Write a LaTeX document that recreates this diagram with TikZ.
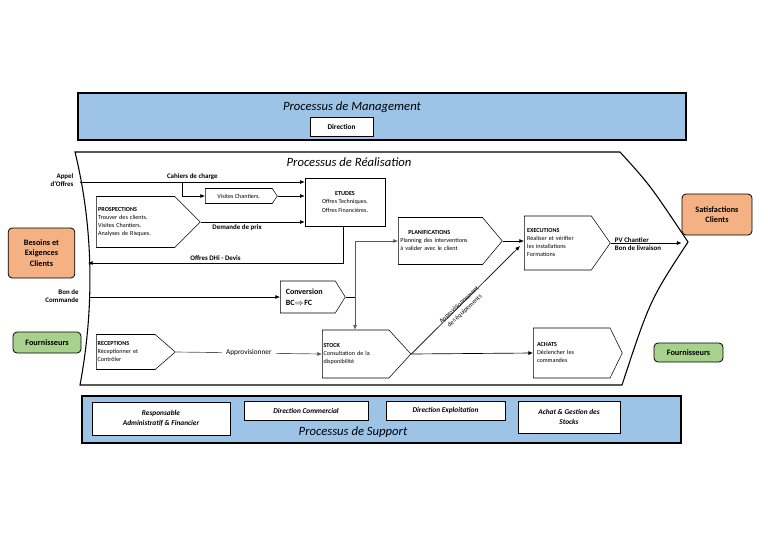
\documentclass[tikz,border=0pt]{standalone}
\usepackage{fontspec}
\setmainfont{Carlito}
\usetikzlibrary{shapes.symbols,shapes.arrows,arrows.meta}
\definecolor{mblue}{HTML}{9DC3E6}
\definecolor{morange}{HTML}{F4B183}
\definecolor{mgreen}{HTML}{A9D18E}
\begin{document}
\begin{tikzpicture}[x=0.75pt,y=-0.75pt,
  sig/.style={draw,fill=white,signal,signal to=east,signal from=nowhere,anchor=west,inner sep=1pt,font=\fontsize{4.6}{6}\selectfont,align=left},
  arr/.style={-{Latex[length=3.5pt,width=3pt]},line width=0.5pt},
  lbl/.style={font=\bfseries\fontsize{5.2}{6.5}\selectfont,inner sep=0.5pt},
  ext/.style={draw,rounded corners=3pt,font=\bfseries\fontsize{6.2}{8}\selectfont,align=center,line width=0.6pt},
  sub/.style={draw,fill=white,font=\bfseries\itshape\fontsize{5.5}{7}\selectfont,align=center,inner sep=1pt},
  ttl/.style={font=\itshape\fontsize{9.5}{11}\selectfont}]
\useasboundingbox (0,0) rectangle (768,543);
% Management
\node[draw,fill=mblue,line width=0.8pt,minimum width=456pt,minimum height=35.25pt] (mgmt) at (382,116.5) {};
\node[ttl] (mt) at (352,107) {Processus de Management};
\node[sub,font=\bfseries\fontsize{5.5}{7}\selectfont,minimum width=47pt,minimum height=14pt] (dir) at (341.5,126.5) {Direction};
% Realisation frame
\draw[line width=0.8pt] (75,152) -- (620,152) .. controls (650,185) .. (688,242) .. controls (650,300) .. (622,385) -- (80,385) .. controls (94,310) and (94,230) .. (75,152) -- cycle;
\node[ttl] (rt) at (349,162) {Processus de Réalisation};
% Support
\node[draw,fill=mblue,line width=0.8pt,minimum width=449.25pt,minimum height=35.25pt] (supp) at (381.5,419.5) {};
\node[ttl] (st) at (353,432) {Processus de Support};
\node[sub,minimum width=103.5pt,minimum height=24.75pt] (s1) at (161,418.5) {Responsable\\Administratif \& Financier};
\node[sub,minimum width=93pt,minimum height=14.25pt] (s2) at (306,410.5) {Direction Commercial};
\node[sub,minimum width=89.25pt,minimum height=14.25pt] (s3) at (445.5,410.5) {Direction Exploitation};
\node[sub,minimum width=76.5pt,minimum height=24pt] (s4) at (569,417) {Achat \& Gestion des\\Stocks};
% External
\node[ext,fill=morange,minimum width=50pt,minimum height=37.5pt] (bes) at (41.5,253) {Besoins et\\Exigences\\Clients};
\node[ext,fill=morange,minimum width=52.5pt,minimum height=30.75pt] (sat) at (717,214.5) {Satisfactions\\Clients};
\node[ext,fill=mgreen,minimum width=51pt,minimum height=15.75pt] (f1) at (47,342.5) {Fournisseurs};
\node[ext,fill=mgreen,minimum width=51.75pt,minimum height=14.25pt] (f2) at (688.5,352.5) {Fournisseurs};
% Inner nodes
\node[sig,signal pointer angle=90,minimum width=78pt,minimum height=38.25pt,text width=56pt] (pro) at (96,222) {\textbf{PROSPECTIONS}\\Trouver des clients.\\Visites Chantiers.\\Analyses de Risques.};
\node[sig,signal pointer angle=112,minimum width=54pt,minimum height=11.25pt] (vis) at (205,196) {Visites Chantiers.};
\node[draw,fill=white,minimum width=60pt,minimum height=36pt,align=center,font=\fontsize{4.6}{6.5}\selectfont,inner sep=1pt] (etu) at (345,202) {\textbf{ETUDES}\\Offres Techniques.\\Offres Financières.};
\node[sig,signal pointer angle=116,minimum width=48.75pt,minimum height=24pt,font=\bfseries\fontsize{6}{8}\selectfont,text width=33pt] (con) at (280,297) {Conversion\\BC$\Rightarrow$FC};
\node[sig,signal pointer angle=100,minimum width=78pt,minimum height=35.25pt,text width=60pt] (pla) at (398,241) {\hspace*{6pt}\textbf{PLANIFICATIONS}\\Planning des interventions\\à valider avec le client};
\node[sig,signal pointer angle=110,minimum width=64.5pt,minimum height=40.5pt,text width=46pt] (exe) at (524,243) {\textbf{EXECUTIONS}\\Réaliser et vérifier\\les installations\\Formations};
\node[sig,signal pointer angle=95,minimum width=63.75pt,minimum height=36pt,text width=48pt] (sto) at (322,354) {\textbf{STOCK}\\Consultation de la\\disponibilité};
\node[sig,signal pointer angle=128,minimum width=66.75pt,minimum height=37.5pt,text width=52pt] (ach) at (533,353) {\textbf{ACHATS}\\Déclencher les\\commandes};
\node[sig,signal pointer angle=82,minimum width=59.25pt,minimum height=26.25pt,text width=42pt] (rec) at (96,352) {\textbf{RECEPTIONS}\\Réceptionner et\\Contrôler};
% Labels
\node[lbl,align=right] (ao) at (62,180) {Appel\\d'Offres};
\node[lbl,align=right] (bc) at (62,296) {Bon de\\Commande};
\coordinate (ca0) at (80,182);
\coordinate (of1) at (88,263);
\coordinate (bc0) at (90,297);
\coordinate (exin) at (520,246);
% Connectors
\draw[arr] (ca0) -- node[lbl,above=1pt,pos=0.5] {Cahiers de charge} (etu.west |- ca0);
\draw[arr] (182,182) |- (vis.west);
\draw[arr] (vis.east) -- (etu.west |- vis.east);
\draw[arr] (pro.east) -- node[lbl,below=1pt,pos=0.35] {Demande de prix} (etu.west |- pro.east);
\draw[arr] (etu.south -| 343,0) |- node[lbl,above=1pt,pos=0.75] {Offres DHi - Devis} (of1);
\draw[arr] (bc0) -- (con.west);
\draw (con.east) -- (355,297);
\draw[arr,gray!70!black] (355,297) |- (pla.west);
\draw[arr,gray!70!black] (355,297) -- (sto.north -| 355,0);
\draw[arr] (pla.east) -- (exe.west |- pla.east);
\draw[arr] (exe.east) -- (sat.west |- exe.east);
\node[lbl,align=left,anchor=west] (pv) at (614,244) {PV Chantier\\Bon de livraison};
\draw[arr] (sto.east) -- (exin);
\node[rotate=43,font=\fontsize{4.8}{6}\selectfont,align=center,inner sep=0.5pt] (apq) at (462,308) {Approvisionnement\\des équipements};
\draw[arr] (sto.east) -- (ach.west);
\draw[arr,gray!70!black] (rec.east) -- node[fill=white,font=\fontsize{5.5}{7}\selectfont,text=black] {Approvisionner} (sto.west);
\end{tikzpicture}
\end{document}
